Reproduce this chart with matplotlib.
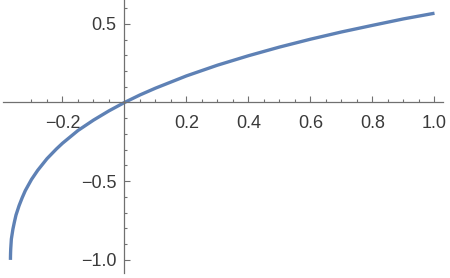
import matplotlib

matplotlib.use("Agg")
import matplotlib.pyplot as plt
from matplotlib.ticker import FixedLocator

# curve points
x_vals = [-0.3679, -0.3678, -0.3675, -0.367, -0.365, -0.36, -0.355, -0.35,
          -0.34, -0.33, -0.32, -0.30, -0.28, -0.25, -0.22, -0.20, -0.15,
          -0.10, -0.05, 0.0, 0.05, 0.10, 0.20, 0.30, 0.40, 0.50, 0.60,
          0.70, 0.80, 0.90, 1.00]
y_vals = [-1.0, -0.98, -0.955, -0.93, -0.868, -0.805, -0.758, -0.715,
          -0.655, -0.605, -0.56, -0.489, -0.431, -0.357, -0.296, -0.259,
          -0.178, -0.112, -0.053, 0.0, 0.048, 0.091, 0.169, 0.237, 0.297,
          0.352, 0.402, 0.448, 0.490, 0.531, 0.567]

x_major = [-0.2, 0.2, 0.4, 0.6, 0.8, 1.0]
x_labels = ["\u22120.2", "0.2", "0.4", "0.6", "0.8", "1.0"]
y_major = [-1.0, -0.5, 0.5]
y_labels = ["\u22121.0", "\u22120.5", "0.5"]

plt.rcParams["font.family"] = ["Liberation Sans", "DejaVu Sans"]

axis_col = "#707070"
text_col = "#3a3a3a"

fig = plt.figure(figsize=(4.5, 2.78), dpi=100)
ax = fig.add_axes([0, 0, 1, 1])
ax.set_xlim(-0.4016, 1.05)
ax.set_ylim(-1.115, 0.651)

ax.plot(x_vals, y_vals, color="#5E81B5", lw=2.4, solid_capstyle="butt")

for side in ("top", "right"):
    ax.spines[side].set_visible(False)
ax.spines["left"].set_position(("data", 0))
ax.spines["bottom"].set_position(("data", 0))
ax.spines["bottom"].set_bounds(-0.392, 1.027)
ax.spines["left"].set_bounds(-1.083, 0.651)
for side in ("left", "bottom"):
    ax.spines[side].set_color(axis_col)
    ax.spines[side].set_linewidth(0.9)

ax.xaxis.set_major_locator(FixedLocator(x_major))
ax.set_xticklabels(x_labels)
ax.xaxis.set_minor_locator(FixedLocator(
    [v / 100 for v in range(-30, 101, 5) if v % 20 != 0]))
ax.yaxis.set_major_locator(FixedLocator(y_major))
ax.set_yticklabels(y_labels)
ax.yaxis.set_minor_locator(FixedLocator(
    [v / 10 for v in range(-10, 7) if v not in (-10, -5, 0, 5)]))

ax.tick_params(which="both", direction="in", colors=axis_col,
               labelcolor=text_col, labelsize=13, width=0.8)
ax.tick_params(which="major", length=4)
ax.tick_params(which="minor", length=2.5)
ax.tick_params(axis="x", which="major", pad=9)
ax.tick_params(axis="y", which="major", pad=6)

fig.savefig("out.png", dpi=100)
